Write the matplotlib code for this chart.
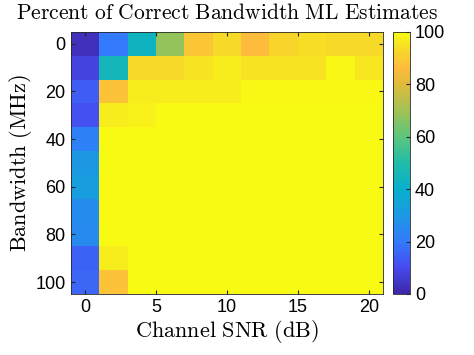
import numpy as np
import matplotlib
matplotlib.use("Agg")
import matplotlib.pyplot as plt
from matplotlib.colors import LinearSegmentedColormap

plt.rcParams['mathtext.fontset'] = 'cm'
plt.rcParams['font.family'] = ['Liberation Sans', 'DejaVu Sans']

snr_db = [0, 2, 4, 6, 8, 10, 12, 14, 16, 18, 20]
bandwidth_mhz = [0, 10, 20, 30, 40, 50, 60, 70, 80, 90, 100]

# percent correct, rows = bandwidth, cols = SNR
pct_correct = np.array([
    [3, 20, 43, 68, 89, 93, 87, 92, 94, 93, 93],
    [8, 45, 93, 93, 95, 97, 95, 95, 95, 99, 96],
    [14, 88, 97, 97, 97, 97, 99.5, 99.5, 99.5, 99.5, 99.5],
    [11, 97, 98, 100, 100, 100, 100, 100, 100, 100, 100],
    [22, 100, 100, 100, 100, 100, 100, 100, 100, 100, 100],
    [30, 100, 100, 100, 100, 100, 100, 100, 100, 100, 100],
    [32, 100, 100, 100, 100, 100, 100, 100, 100, 100, 100],
    [26, 100, 100, 100, 100, 100, 100, 100, 100, 100, 100],
    [25, 100, 100, 100, 100, 100, 100, 100, 100, 100, 100],
    [15, 97, 100, 100, 100, 100, 100, 100, 100, 100, 100],
    [16, 88, 100, 100, 100, 100, 100, 100, 100, 100, 100],
])

# rough parula
parula = LinearSegmentedColormap.from_list('parula', [
    (0.00, (0.2422, 0.1504, 0.6603)),
    (0.10, (0.2760, 0.2960, 0.9400)),
    (0.20, (0.2000, 0.4800, 0.9900)),
    (0.30, (0.1100, 0.6000, 0.8900)),
    (0.40, (0.0300, 0.6900, 0.8000)),
    (0.50, (0.1300, 0.7400, 0.6600)),
    (0.60, (0.3600, 0.7750, 0.4900)),
    (0.70, (0.6300, 0.7600, 0.3300)),
    (0.80, (0.8800, 0.7300, 0.2300)),
    (0.87, (0.9950, 0.7400, 0.2400)),
    (0.93, (0.9700, 0.8500, 0.1600)),
    (1.00, (0.9769, 0.9839, 0.0805)),
])

fig = plt.figure(figsize=(4.74, 3.55), dpi=100)
ax = fig.add_axes([0.150, 0.172, 0.658, 0.738])
cax = fig.add_axes([0.829, 0.172, 0.036, 0.738])

dx = snr_db[1] - snr_db[0]
dy = bandwidth_mhz[1] - bandwidth_mhz[0]
im = ax.imshow(pct_correct, cmap=parula, vmin=0, vmax=100, aspect='auto',
               interpolation='nearest',
               extent=[snr_db[0] - dx / 2, snr_db[-1] + dx / 2,
                       bandwidth_mhz[-1] + dy / 2, bandwidth_mhz[0] - dy / 2])

ax.set_xticks([0, 5, 10, 15, 20])
ax.set_yticks([0, 20, 40, 60, 80, 100])
ax.tick_params(direction='in', top=True, right=True, labelsize=13,
               color='0.15', length=3, pad=4)
for s in ax.spines.values():
    s.set_color('0.15')
    s.set_linewidth(0.6)

ax.set_title(r'$\mathrm{Percent\ of\ Correct\ Bandwidth\ ML\ Estimates}$',
             fontsize=15.5, pad=9)
ax.set_xlabel(r'$\mathrm{Channel\ SNR\ (dB)}$', fontsize=16, labelpad=1)
ax.set_ylabel(r'$\mathrm{Bandwidth\ (MHz)}$', fontsize=16, labelpad=1)

cb = fig.colorbar(im, cax=cax, ticks=[0, 20, 40, 60, 80, 100])
cb.ax.tick_params(direction='in', labelsize=13, color='0.15', length=3)
cb.outline.set_edgecolor('0.15')
cb.outline.set_linewidth(0.6)

fig.savefig('out.png', dpi=100)
